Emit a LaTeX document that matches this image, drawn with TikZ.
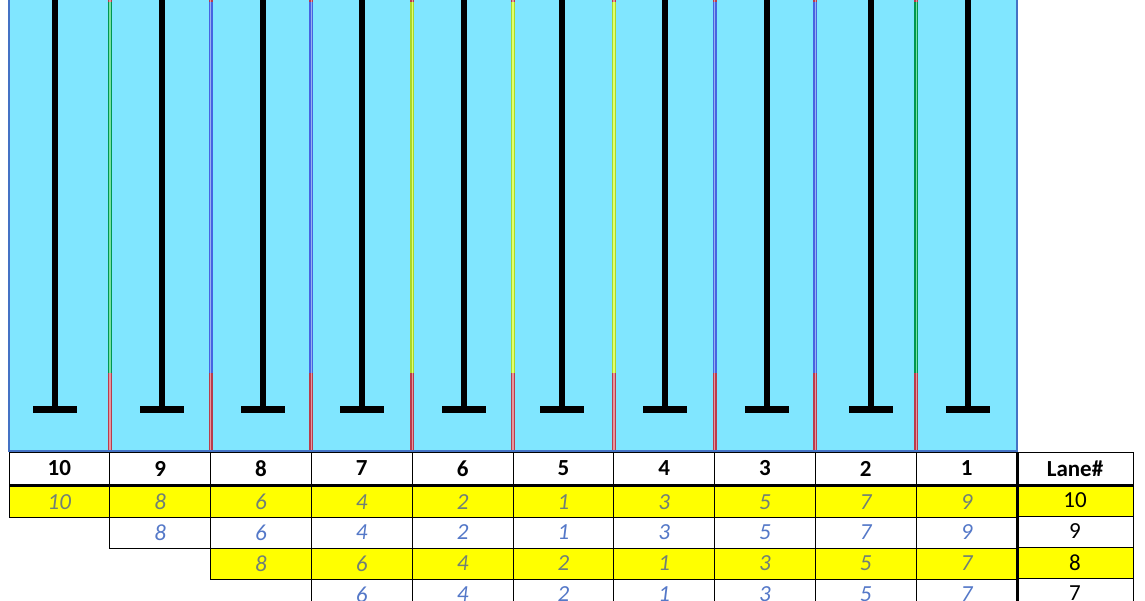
\documentclass[tikz,border=0pt]{standalone}
\usepackage{fontspec}
\setmainfont{Carlito}
\usetikzlibrary{positioning}
\definecolor{poolfill}{RGB}{128,230,255}
\definecolor{pooledge}{RGB}{68,114,196}
\definecolor{rowyellow}{RGB}{255,255,0}
\definecolor{numblue}{RGB}{84,120,200}
\definecolor{numolive}{RGB}{112,128,118}
\definecolor{greendark}{RGB}{0,150,80}
\definecolor{greenlight}{RGB}{120,225,160}
\definecolor{bluedark}{RGB}{70,100,225}
\definecolor{bluelight}{RGB}{150,175,240}
\definecolor{yellowdark}{RGB}{170,215,40}
\definecolor{yellowlight}{RGB}{225,255,110}
\definecolor{reddark}{RGB}{185,60,75}
\definecolor{redlight}{RGB}{230,150,160}
\tikzset{
  pool/.style={fill=poolfill, draw=pooledge, line width=1.8pt},
  divider/.style={line width=1.3pt, draw=#1dark, double=#1light, double distance=1.4pt},
  rope/.style={line width=6pt, draw=black},
  tbar/.style={line width=7pt, draw=black},
  cell/.style={rectangle, draw=black, line width=0.8pt, minimum width=100.8pt, minimum height=31pt,
    inner sep=0pt, outer sep=0pt, fill=white, font=\fontsize{23}{23}\selectfont},
  headcell/.style={cell, minimum height=33pt, font=\bfseries\fontsize{23}{23}\selectfont},
  numcell/.style={cell, text=numblue, font=\itshape\fontsize{23}{23}\selectfont},
  yellownum/.style={numcell, fill=rowyellow, text=numolive},
  lanecell/.style={cell, minimum width=116pt},
  thickrule/.style={line width=3pt, draw=black}
}

\begin{document}
\begin{tikzpicture}[x=1pt, y=-1pt]
    \useasboundingbox (0,0) rectangle (1145,601);

    % table
    \foreach \n [count=\i from 0] in {10,9,...,1}
        \node (h\n) [headcell] at (59.4+\i*100.8, 468.5) {\n};
    \node (lane) [headcell, minimum width=116pt] at (1075, 468.5) {Lane\#};

    \foreach \v [count=\i from 0] in {10,8,6,4,2,1,3,5,7,9}
        \node (a\i) [yellownum] at (59.4+\i*100.8, 502) {\v};
    \foreach \v [count=\i from 1] in {8,6,4,2,1,3,5,7,9}
        \node (b\i) [numcell] at (59.4+\i*100.8, 532.5) {\v};
    \foreach \v [count=\i from 2] in {8,6,4,2,1,3,5,7}
        \node (c\i) [yellownum] at (59.4+\i*100.8, 563.5) {\v};
    \foreach \v [count=\i from 3] in {6,4,2,1,3,5,7}
        \node (d\i) [numcell] at (59.4+\i*100.8, 594.5) {\v};

    \node (lane10) [lanecell, fill=rowyellow, below=0pt of lane] {10};
    \node (lane9) [lanecell, below=0pt of lane10] {9};
    \node (lane8) [lanecell, fill=rowyellow, below=0pt of lane9] {8};
    \node (lane7) [lanecell, below=0pt of lane8] {7};

    \draw[thickrule] (h10.south west) -- (lane.south east);
    \draw[thickrule] (lane.north west) -- (lane7.south west);

    % pool with lanes
    \draw[pool] (9,-5) rectangle (1017,451);
    \foreach \x/\c in {109.8/green, 210.6/blue, 311.4/blue, 412.2/yellow, 513/yellow,
                      613.8/yellow, 714.6/blue, 815.4/blue, 916.2/green} {
        \draw[divider=\c] (\x,-5) -- (\x,373);
        \draw[divider=red] (\x,373) -- (\x,450);
        \draw[divider=red] (\x,-5) -- (\x,2);
    }
    \foreach \x in {55,162,263,362,464,562,665,767,871,968} {
        \draw[rope] (\x,-5) -- (\x,409);
        \draw[tbar] (\x-22,409) -- (\x+22,409);
    }

\end{tikzpicture}
\end{document}
